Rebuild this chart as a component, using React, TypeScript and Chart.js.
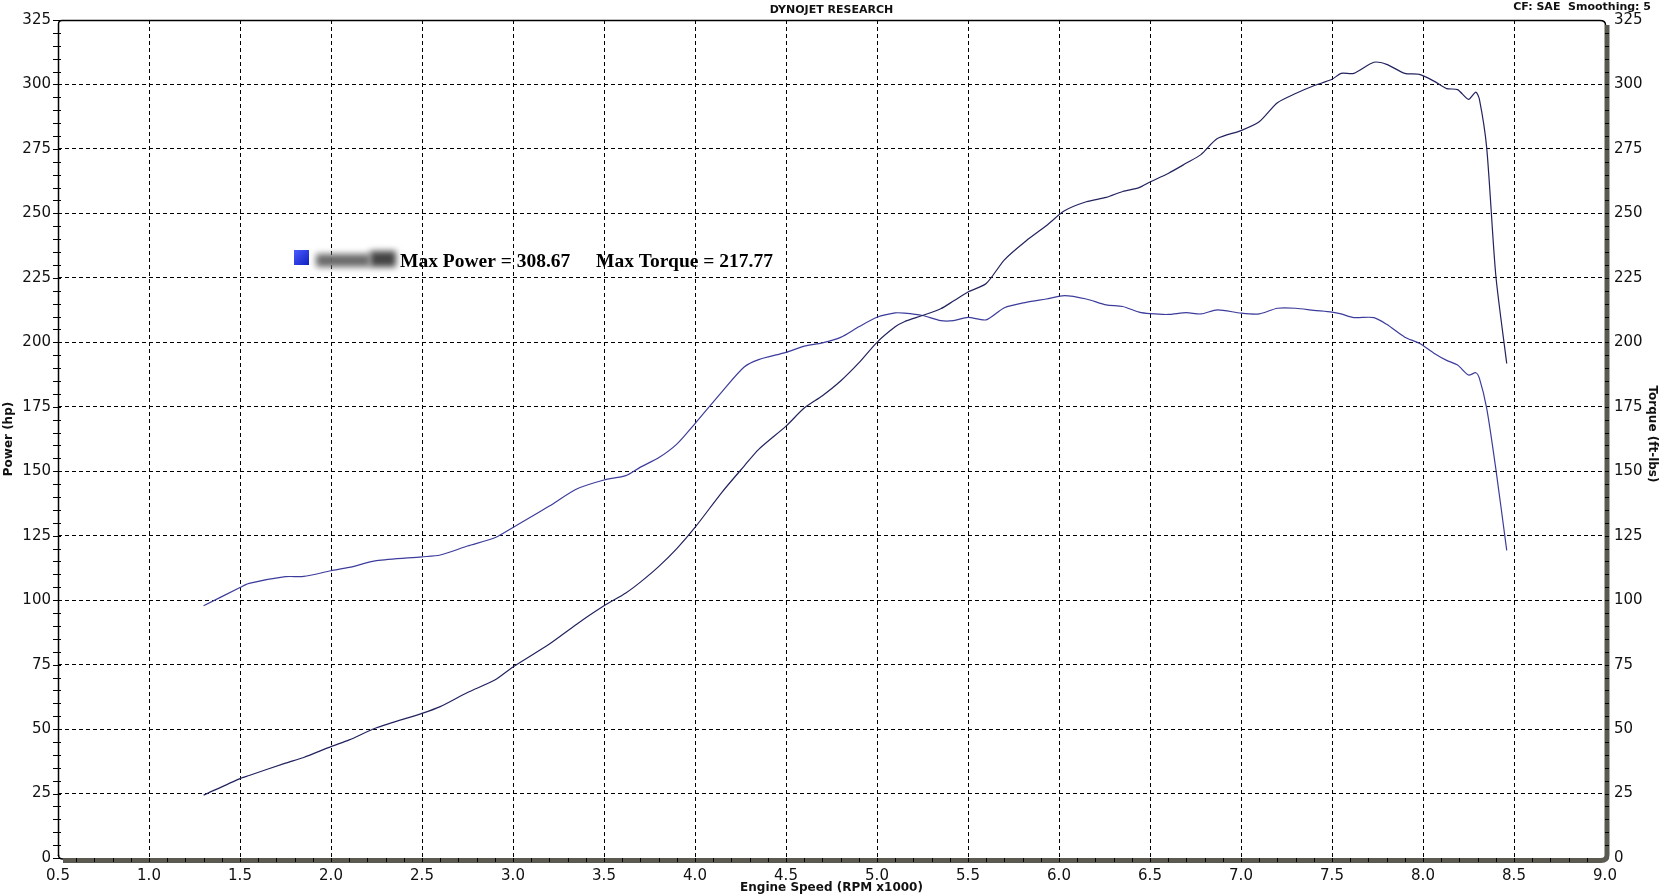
import React, { useEffect, useRef } from "react";
import { Chart, registerables } from "chart.js";

Chart.register(...registerables);

// ---- data ----
const rpm = [
  1.3, 1.5, 1.55, 1.75, 1.85, 2.0, 2.1, 2.25, 2.5, 2.6, 2.75, 2.9, 3.0, 3.2, 3.35, 3.5, 3.62, 3.7, 3.8, 3.9,
  4.0, 4.15, 4.27, 4.35, 4.5, 4.6, 4.7, 4.8, 4.9, 5.0, 5.1, 5.15, 5.25, 5.35, 5.42, 5.5, 5.6, 5.7, 5.82, 5.93,
  6.03, 6.15, 6.26, 6.35, 6.44, 6.5, 6.6, 6.7, 6.78, 6.87, 7.0, 7.1, 7.2, 7.3, 7.4, 7.5, 7.55, 7.62, 7.73, 7.8,
  7.9, 7.98, 8.06, 8.13, 8.19, 8.25, 8.29, 8.31, 8.35, 8.4, 8.46,
];

const powerHp = [
  24.4, 30.8, 32, 36.8, 39, 43.2, 45.8, 50.5, 56.1, 58.7, 64.2, 69, 74.1, 83, 90.7, 97.8, 102.8, 107, 113, 120,
  128.2, 142, 152, 158.5, 167.5, 174.5, 179.3, 185, 192, 200, 206, 208, 210.4, 213, 216, 219.5, 222.8, 232, 239.4, 245.2,
  251, 254.5, 256.2, 258.5, 260, 262.2, 265.5, 269.5, 272.8, 279, 282.1, 285.5, 292.9, 296.5, 299.5, 302, 304.3, 304.3, 308.6, 307.8,
  304.3, 303.9, 301.3, 298.4, 298, 294.2, 297, 294.2, 275.4, 226, 191.8,
];

const torqueFtLbs = [
  97.8, 104.9, 106.5, 109.1, 109.2, 111.4, 112.7, 115.3, 116.8, 117.5, 121, 124.2, 128.2, 136.5, 143.1, 146.6, 148.3, 151.6, 155.2, 160.5,
  168.5, 181, 190.4, 193.3, 196.1, 198.5, 199.8, 201.9, 206, 209.7, 211.4, 211.3, 210.4, 208.4, 208.4, 209.7, 208.7, 213.4, 215.5, 216.8,
  218.1, 216.8, 214.5, 213.9, 211.7, 211.1, 210.8, 211.5, 211, 212.6, 211.3, 211, 213.2, 213.2, 212.4, 211.7, 211, 209.6, 209.6, 207,
  202, 199.6, 195.8, 193, 191.2, 187.3, 188.2, 186, 174.4, 151, 119.3,
];

const xMin = 0.5;
const xMax = 9.0;
const xStep = 0.5;
const yMin = 0;
const yMax = 325;
const yStep = 25;

const chartTitle = "DYNOJET RESEARCH";
const cornerNote = "CF: SAE  Smoothing: 5";
const xTitle = "Engine Speed (RPM x1000)";
const yLeftTitle = "Power (hp)";
const yRightTitle = "Torque (ft-lbs)";
const maxPowerLabel = "Max Power = 308.67";
const maxTorqueLabel = "Max Torque = 217.77";

const SANS = "'DejaVu Sans', Verdana, sans-serif";
const SERIF = "'Liberation Serif', 'Times New Roman', serif";

const framePlugin = {
  id: "dynoFrame",
  afterDraw(chart: any) {
    const { ctx, chartArea } = chart;
    const { left, right, top, bottom } = chartArea;
    const xs = chart.scales.x;
    const ys = chart.scales.y;
    ctx.save();

    // top + left black frame with rounded corners
    ctx.strokeStyle = "#000";
    ctx.lineWidth = 1.5;
    ctx.beginPath();
    ctx.moveTo(left + 0.5, bottom - 2);
    ctx.lineTo(left + 0.5, top + 4);
    ctx.quadraticCurveTo(left + 0.5, top + 0.5, left + 4, top + 0.5);
    ctx.lineTo(right - 5, top + 0.5);
    ctx.quadraticCurveTo(right + 0.5, top + 0.5, right + 0.5, top + 5);
    ctx.stroke();

    // bottom-left small curve
    ctx.beginPath();
    ctx.moveTo(left + 0.5, bottom - 3);
    ctx.quadraticCurveTo(left + 0.5, bottom + 1, left + 5, bottom + 1);
    ctx.stroke();

    // thick right and bottom bars
    ctx.strokeStyle = "#5a5a50";
    ctx.lineWidth = 5;
    ctx.beginPath();
    ctx.moveTo(right + 2, top + 5);
    ctx.lineTo(right + 2, bottom - 3);
    ctx.quadraticCurveTo(right + 2, bottom + 2.5, right - 4, bottom + 2.5);
    ctx.lineTo(left + 5, bottom + 2.5);
    ctx.stroke();

    // minor ticks
    ctx.strokeStyle = "#000";
    ctx.lineWidth = 1;
    for (let v = yMin; v <= yMax; v += 5) {
      const py = Math.round(ys.getPixelForValue(v)) + 0.5;
      ctx.beginPath();
      ctx.moveTo(left - 5, py);
      ctx.lineTo(left + 3, py);
      ctx.stroke();
      if (v > yMin && v < yMax) {
        ctx.beginPath();
        ctx.moveTo(right, py);
        ctx.lineTo(right + 4, py);
        ctx.stroke();
      }
    }
    for (let i = 1; i < Math.round((xMax - xMin) * 10); i++) {
      const r = xMin + i / 10;
      const px = Math.round(xs.getPixelForValue(r)) + 0.5;
      ctx.beginPath();
      ctx.moveTo(px, bottom);
      ctx.lineTo(px, bottom + 4);
      ctx.stroke();
    }

    // header texts
    ctx.fillStyle = "#111";
    ctx.font = `bold 11px ${SANS}`;
    ctx.textAlign = "center";
    ctx.textBaseline = "middle";
    ctx.fillText(chartTitle, (left + right) / 2, 10.5);
    ctx.textAlign = "right";
    ctx.fillText(cornerNote, 1651, 7.5);

    // axis titles
    ctx.font = `bold 12px ${SANS}`;
    ctx.textAlign = "center";
    ctx.fillText(xTitle, (left + right) / 2, 888);

    ctx.save();
    ctx.translate(9, (top + bottom) / 2);
    ctx.rotate(-Math.PI / 2);
    ctx.fillText(yLeftTitle, 0, 0);
    ctx.restore();

    ctx.save();
    ctx.translate(1652, (top + bottom) / 2 - 5);
    ctx.rotate(Math.PI / 2);
    ctx.fillText(yRightTitle, 0, 0);
    ctx.restore();

    // annotation: legend swatch, blurred name, max values
    const grad = ctx.createLinearGradient(294, 250, 309, 265);
    grad.addColorStop(0, "#4a5cff");
    grad.addColorStop(1, "#1020c0");
    ctx.fillStyle = grad;
    ctx.fillRect(294, 250, 15, 15);

    ctx.save();
    ctx.filter = "blur(3px)";
    ctx.fillStyle = "#6a6a6a";
    ctx.fillRect(316, 254, 54, 13);
    ctx.fillStyle = "#444";
    ctx.fillRect(370, 251, 26, 16);
    ctx.restore();

    ctx.fillStyle = "#000";
    ctx.font = `bold 19.5px ${SERIF}`;
    ctx.textAlign = "left";
    ctx.textBaseline = "alphabetic";
    ctx.fillText(maxPowerLabel, 400, 267);
    ctx.fillText(maxTorqueLabel, 596, 267);

    ctx.restore();
  },
};

export default function App() {
  const canvasRef = useRef<HTMLCanvasElement | null>(null);

  useEffect(() => {
    document.body.style.margin = "0";
    document.body.style.overflow = "hidden";
    const canvas = canvasRef.current;
    if (!canvas) return;

    const powerData = rpm.map((r, i) => ({ x: r, y: powerHp[i] }));
    const torqueData = rpm.map((r, i) => ({ x: r, y: torqueFtLbs[i] }));

    const tickFont = { family: SANS, size: 15 };

    const chart = new Chart(canvas, {
      type: "line",
      data: {
        datasets: [
          {
            label: "Power",
            data: powerData,
            yAxisID: "y",
            borderColor: "#22225f",
            borderWidth: 1.2,
            pointRadius: 0,
            tension: 0.25,
            fill: false,
          },
          {
            label: "Torque",
            data: torqueData,
            yAxisID: "y2",
            borderColor: "#3c3c9c",
            borderWidth: 1.2,
            pointRadius: 0,
            tension: 0.25,
            fill: false,
          },
        ],
      },
      options: {
        animation: false,
        responsive: false,
        devicePixelRatio: 1,
        layout: { padding: { top: 20, left: 0, right: 0, bottom: 0 } },
        plugins: {
          legend: { display: false },
          tooltip: { enabled: false },
          title: { display: false },
        },
        scales: {
          x: {
            type: "linear",
            min: xMin,
            max: xMax,
            afterFit: (s: any) => {
              s.height = 37;
            },
            ticks: {
              stepSize: xStep,
              autoSkip: false,
              maxRotation: 0,
              padding: 9,
              color: "#111",
              font: tickFont,
              callback: (v: any) => Number(v).toFixed(1),
            },
            grid: {
              drawTicks: false,
              lineWidth: 1,
              color: (c: any) =>
                c.tick && (Math.abs(c.tick.value - xMin) < 1e-6 || Math.abs(c.tick.value - xMax) < 1e-6)
                  ? "rgba(0,0,0,0)"
                  : "#000",
            },
            border: { display: false, dash: [4, 3] },
          },
          y: {
            type: "linear",
            position: "left",
            min: yMin,
            max: yMax,
            afterFit: (s: any) => {
              s.width = 58;
            },
            ticks: {
              stepSize: yStep,
              padding: 7,
              color: "#111",
              font: tickFont,
            },
            grid: {
              drawTicks: false,
              lineWidth: 1,
              color: (c: any) =>
                c.tick && (c.tick.value === yMin || c.tick.value === yMax) ? "rgba(0,0,0,0)" : "#000",
            },
            border: { display: false, dash: [4, 3] },
          },
          y2: {
            type: "linear",
            position: "right",
            min: yMin,
            max: yMax,
            afterFit: (s: any) => {
              s.width = 56;
            },
            ticks: {
              stepSize: yStep,
              padding: 9,
              color: "#111",
              font: tickFont,
            },
            grid: { display: false, drawTicks: false },
            border: { display: false },
          },
        },
      },
      plugins: [framePlugin],
    } as any);

    return () => chart.destroy();
  }, []);

  return (
    <div style={{ position: "absolute", left: 0, top: 0, width: 1661, height: 895, background: "#fff" }}>
      <canvas ref={canvasRef} width={1661} height={895} />
    </div>
  );
}
